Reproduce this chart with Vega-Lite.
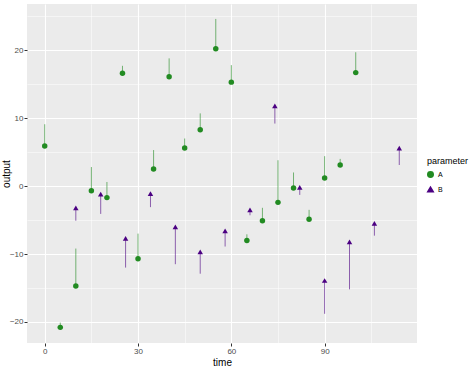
{
  "$schema": "https://vega.github.io/schema/vega-lite/v6.json",
  "width": 390,
  "height": 339,
  "autosize": {"type": "none"},
  "padding": {"left": 27, "top": 4, "right": 57, "bottom": 25},
  "background": "white",
  "config": {
    "view": {"fill": "#EBEBEB", "stroke": null},
    "font": "Liberation Sans",
    "axis": {
      "domain": false,
      "labelColor": "#4D4D4D",
      "labelFontSize": 8,
      "labelFont": "Liberation Sans",
      "tickColor": "#333333",
      "tickSize": 3,
      "titleColor": "#000000",
      "titleFontSize": 10,
      "titleFontWeight": "normal",
      "titleFont": "Liberation Sans",
      "gridColor": "#FFFFFF"
    }
  },
  "data": {
    "values": [
      {"time": 0, "value": 5.9, "end": 9.1, "parameter": "A"},
      {"time": 5, "value": -20.8, "end": -20.1, "parameter": "A"},
      {"time": 10, "value": -14.7, "end": -9.2, "parameter": "A"},
      {"time": 15, "value": -0.7, "end": 2.8, "parameter": "A"},
      {"time": 20, "value": -1.7, "end": 0.6, "parameter": "A"},
      {"time": 25, "value": 16.6, "end": 17.7, "parameter": "A"},
      {"time": 30, "value": -10.7, "end": -7.0, "parameter": "A"},
      {"time": 35, "value": 2.5, "end": 5.3, "parameter": "A"},
      {"time": 40, "value": 16.1, "end": 18.8, "parameter": "A"},
      {"time": 45, "value": 5.6, "end": 7.0, "parameter": "A"},
      {"time": 50, "value": 8.3, "end": 10.7, "parameter": "A"},
      {"time": 55, "value": 20.2, "end": 24.6, "parameter": "A"},
      {"time": 60, "value": 15.3, "end": 17.8, "parameter": "A"},
      {"time": 65, "value": -8.0, "end": -7.1, "parameter": "A"},
      {"time": 70, "value": -5.1, "end": -3.2, "parameter": "A"},
      {"time": 75, "value": -2.4, "end": 3.8, "parameter": "A"},
      {"time": 80, "value": -0.3, "end": 2.0, "parameter": "A"},
      {"time": 85, "value": -4.9, "end": -3.5, "parameter": "A"},
      {"time": 90, "value": 1.2, "end": 4.4, "parameter": "A"},
      {"time": 95, "value": 3.1, "end": 4.0, "parameter": "A"},
      {"time": 100, "value": 16.7, "end": 19.7, "parameter": "A"},
      {"time": 10, "value": -3.2, "end": -5.1, "parameter": "B"},
      {"time": 18, "value": -1.2, "end": -4.1, "parameter": "B"},
      {"time": 26, "value": -7.7, "end": -12.0, "parameter": "B"},
      {"time": 34, "value": -1.1, "end": -3.1, "parameter": "B"},
      {"time": 42, "value": -6.0, "end": -11.5, "parameter": "B"},
      {"time": 50, "value": -9.7, "end": -12.9, "parameter": "B"},
      {"time": 58, "value": -6.6, "end": -8.9, "parameter": "B"},
      {"time": 66, "value": -3.5, "end": -4.3, "parameter": "B"},
      {"time": 74, "value": 11.8, "end": 9.2, "parameter": "B"},
      {"time": 82, "value": -0.2, "end": -1.3, "parameter": "B"},
      {"time": 90, "value": -13.9, "end": -18.8, "parameter": "B"},
      {"time": 98, "value": -8.2, "end": -15.2, "parameter": "B"},
      {"time": 106, "value": -5.5, "end": -7.3, "parameter": "B"},
      {"time": 114, "value": 5.6, "end": 3.1, "parameter": "B"}
    ]
  },
  "encoding": {
    "x": {
      "field": "time", "type": "quantitative",
      "scale": {"domain": [-5.7, 119.7], "nice": false, "zero": false},
      "axis": {
        "values": [0, 15, 30, 45, 60, 75, 90, 105],
        "title": "time",
        "titlePadding": 2,
        "labelPadding": 1,
        "labelExpr": "datum.value % 30 === 0 ? datum.label : ''",
        "gridWidth": {"condition": {"test": "datum.value % 30 !== 0", "value": 0.5}, "value": 1.1},
        "tickOpacity": {"condition": {"test": "datum.value % 30 !== 0", "value": 0}, "value": 1}
      }
    },
    "y": {
      "field": "value", "type": "quantitative",
      "scale": {"domain": [-23.1, 26.8], "nice": false, "zero": false},
      "axis": {
        "values": [-20, -15, -10, -5, 0, 5, 10, 15, 20, 25],
        "title": "output",
        "titleX": -16,
        "titleBaseline": "bottom",
        "labelPadding": 1,
        "labelExpr": "datum.value % 10 === 0 ? datum.label : ''",
        "gridWidth": {"condition": {"test": "datum.value % 10 !== 0", "value": 0.5}, "value": 1.1},
        "tickOpacity": {"condition": {"test": "datum.value % 10 !== 0", "value": 0}, "value": 1}
      }
    },
    "color": {
      "field": "parameter", "type": "nominal",
      "scale": {"domain": ["A", "B"], "range": ["#228B22", "#4B0082"]},
      "legend": {
        "title": "parameter",
        "orient": "none",
        "legendX": 400,
        "legendY": 153,
        "titleFontSize": 9,
        "titleFontWeight": "normal",
        "titleColor": "#000000",
        "labelFontSize": 7,
        "labelColor": "#000000",
        "symbolSize": 30,
        "symbolOpacity": 1,
        "rowPadding": 3
      }
    }
  },
  "layer": [
    {
      "mark": {"type": "rule", "strokeWidth": 1, "opacity": 0.6},
      "encoding": {"y2": {"field": "end"}}
    },
    {
      "mark": {"type": "point", "filled": true, "opacity": 1, "size": 30},
      "encoding": {
        "shape": {
          "field": "parameter", "type": "nominal",
          "scale": {"domain": ["A", "B"], "range": ["circle", "triangle-up"]},
          "legend": {
            "title": "parameter",
            "orient": "none",
            "legendX": 400,
            "legendY": 153,
            "titleFontSize": 9,
            "titleFontWeight": "normal",
            "titleColor": "#000000",
            "labelFontSize": 7,
            "labelColor": "#000000",
            "symbolSize": 30,
            "symbolOpacity": 1,
            "rowPadding": 3
          }
        }
      }
    }
  ]
}
